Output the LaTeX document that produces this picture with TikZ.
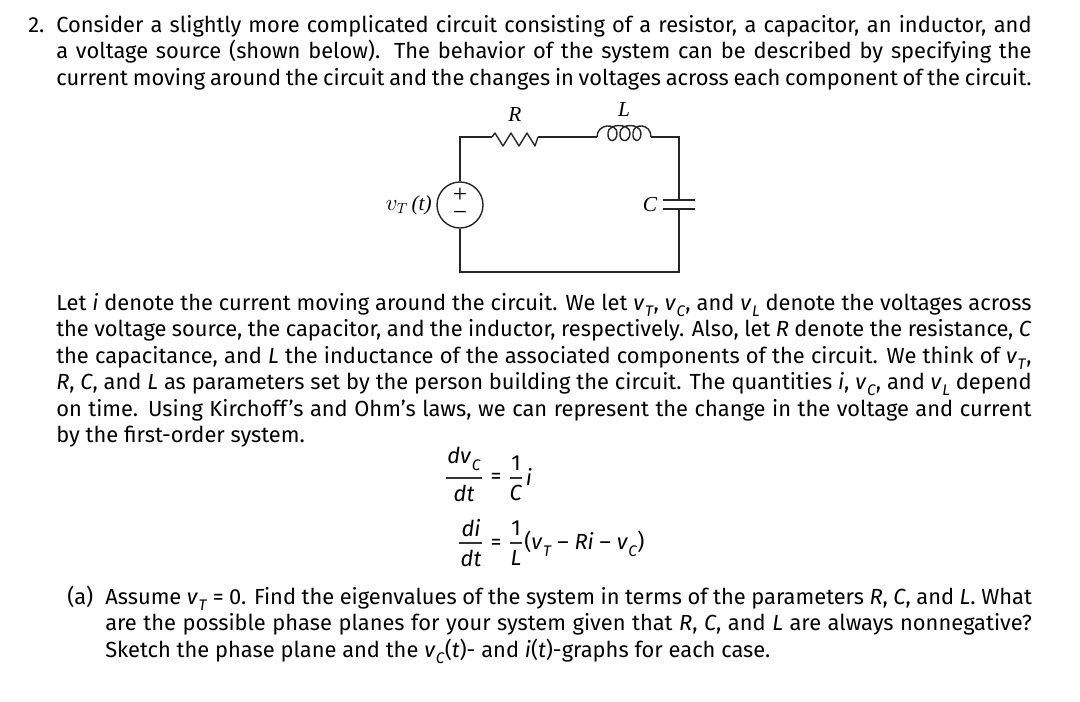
\documentclass[tikz,border=0pt]{standalone}
\usepackage{fontspec}
\setmainfont{Fira Sans}
\newfontfamily\labelfont{Liberation Serif}
\usetikzlibrary{calc}
\newcommand{\vsub}[2]{\textit{#1}\kern0.02em\raisebox{-0.55ex}{\fontsize{11.5pt}{12pt}\selectfont\textit{#2}}}
\newcommand{\fitline}[2]{\makebox[#1pt][s]{#2}}
\tikzset{
    textline/.style={anchor=base west,inner sep=0pt,font=\fontsize{16.4pt}{20pt}\selectfont},
    eqpart/.style={inner sep=0pt,font=\fontsize{16.4pt}{20pt}\selectfont},
    circuitlabel/.style={inner sep=0pt,font=\labelfont\itshape\fontsize{16pt}{18pt}\selectfont},
    signlabel/.style={inner sep=0pt,font=\labelfont\fontsize{19pt}{20pt}\selectfont},
    wire/.style={line width=1.05pt,black!85},
    fracbar/.style={line width=0.8pt,black!80}
}
\begin{document}
\begin{tikzpicture}[x=0.75pt,y=-0.75pt]
    \useasboundingbox[fill=white] (0,0) rectangle (1080,701);
    % problem statement
    \node[textline] (num) at (28,32) {2.};
    \node[textline] (p1) at (56,32) {\fitline{731.5}{Consider a slightly more complicated circuit consisting of a resistor, a capacitor, an inductor, and}};
    \node[textline] (p2) at (56,58.5) {\fitline{731.5}{a voltage source (shown below). The behavior of the system can be described by specifying the}};
    \node[textline] (p3) at (56,85) {\fitline{731.5}{current moving around the circuit and the changes in voltages across each component of the circuit.}};
    % circuit
    \coordinate (TL) at (460,137);
    \coordinate (TR) at (679,137);
    \coordinate (BL) at (460,272);
    \coordinate (BR) at (679,272);
    \coordinate (Ra) at (492,137);
    \coordinate (Rb) at (538,137);
    \coordinate (La) at (597,137);
    \coordinate (Lb) at (651,137);
    \coordinate (Ca) at (679,200);
    \coordinate (Cb) at (679,209);
    \node[draw,circle,line width=1.05pt,black!85,minimum size=34.5pt,inner sep=0pt] (VT) at (460,205) {};
    \node[signlabel] (plus) at (460,195) {+};
    \node[signlabel] (minus) at (460,216) {−};
    \draw[wire] (VT.north) -- (TL) -- (Ra);
    \draw[wire,line join=round] (Ra) -- ++(3,-4) -- ++(8,13) -- ++(8,-13) -- ++(8,13) -- ++(8,-13) -- ++(8,13) -- (Rb);
    \draw[wire] (Rb) -- (La);
    \draw[wire] (La) .. controls (597,123) and (617,123) .. (617,133)
        .. controls (617,143) and (607,143) .. (608,133)
        .. controls (608,123) and (630,123) .. (630,133)
        .. controls (630,143) and (619,143) .. (620,133)
        .. controls (620,123) and (640,123) .. (641,133)
        .. controls (641,143) and (632,143) .. (633,133)
        .. controls (633,123) and (651,123) .. (Lb);
    \draw[wire] (Lb) -- (TR) -- (Ca);
    \draw[wire] (663,200) -- (695,200);
    \draw[wire] (663,209) -- (695,209);
    \draw[wire] (Cb) -- (BR) -- (BL) -- (VT.south);
    \node[circuitlabel] (Rlabel) at (515,115) {R};
    \node[circuitlabel] (Llabel) at (624,110) {L};
    \node[circuitlabel] (Clabel) at (650,205) {C};
    \node[circuitlabel,anchor=east] (VTlabel) at (432,205) {$v_T$\,(\textit{t})};
    % text below the circuit
    \node[textline] (q1) at (56,310) {\fitline{731.5}{Let \textit{i} denote the current moving around the circuit. We let \vsub{v}{T}, \vsub{v}{C}, and \vsub{v}{L} denote the voltages across}};
    \node[textline] (q2) at (56,336.5) {\fitline{731.5}{the voltage source, the capacitor, and the inductor, respectively. Also, let \textit{R} denote the resistance, \textit{C}}};
    \node[textline] (q3) at (56,363) {\fitline{731.5}{the capacitance, and \textit{L} the inductance of the associated components of the circuit. We think of \vsub{v}{T},}};
    \node[textline] (q4) at (56,389.5) {\fitline{731.5}{\textit{R}, \textit{C}, and \textit{L} as parameters set by the person building the circuit. The quantities \textit{i}, \vsub{v}{C}, and \vsub{v}{L} depend}};
    \node[textline] (q5) at (56,416) {\fitline{731.5}{on time. Using Kirchoff's and Ohm's laws, we can represent the change in the voltage and current}};
    \node[textline] (q6) at (56,442) {by the first-order system.};
    % equations
    \node[eqpart] (dvc) at (464,459) {\textit{d}\vsub{v}{C}};
    \node[eqpart] (dt1) at (464,493) {\textit{dt}};
    \draw[fracbar] (446,478) -- (482,478);
    \node[eqpart] (eq1) at (496,478) {=};
    \node[eqpart] (one1) at (516,463) {1};
    \node[eqpart] (C1) at (516,493) {\textit{C}};
    \draw[fracbar] (510,478) -- (522,478);
    \node[eqpart] (i1) at (529,477) {\textit{i}};
    \node[eqpart] (di) at (471,528) {\textit{di}};
    \node[eqpart] (dt2) at (471,558) {\textit{dt}};
    \draw[fracbar] (459,543) -- (482,543);
    \node[eqpart] (eq2) at (496,544) {=};
    \node[eqpart] (one2) at (516,528) {1};
    \node[eqpart] (L2) at (516,558) {\textit{L}};
    \draw[fracbar] (510,543) -- (522,543);
    \node[eqpart,anchor=west] (rhs) at (524,544) {(\vsub{v}{T} – \textit{Ri} – \vsub{v}{C})};
    % part (a)
    \node[textline] (tag) at (67,604) {(a)};
    \node[textline] (a1) at (105,604) {\fitline{695}{Assume \vsub{v}{T} = 0. Find the eigenvalues of the system in terms of the parameters \textit{R}, \textit{C}, and \textit{L}. What}};
    \node[textline] (a2) at (105,630.5) {\fitline{695}{are the possible phase planes for your system given that \textit{R}, \textit{C}, and \textit{L} are always nonnegative?}};
    \node[textline] (a3) at (105,657) {Sketch the phase plane and the \vsub{v}{C}(\textit{t})- and \textit{i}(\textit{t})-graphs for each case.};
\end{tikzpicture}
\end{document}
